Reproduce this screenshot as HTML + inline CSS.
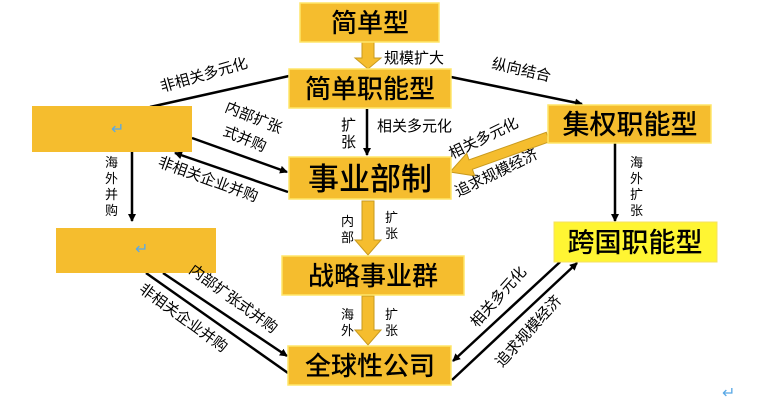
<!DOCTYPE html>
<html><head><meta charset="utf-8"><style>
html,body{margin:0;padding:0;background:#fff;width:764px;height:401px;overflow:hidden}
svg{display:block}
text{font-family:"Liberation Sans","Noto Sans CJK SC",sans-serif;fill:#000}
.b{font-size:26px;font-weight:500}
.l{font-size:15px}
</style></head><body>
<svg width="764" height="401" viewBox="0 0 764 401" xmlns="http://www.w3.org/2000/svg">
<defs>
<marker id="a" markerWidth="8" markerHeight="8" refX="7" refY="4" orient="auto" markerUnits="userSpaceOnUse" viewBox="0 0 8 8">
<path d="M0,0 L8,4 L0,8 z" fill="#000"/></marker>
</defs>
<g stroke="#000" stroke-width="2.5" fill="none">
<line x1="289" y1="76" x2="150" y2="107"/>
<line x1="451" y1="77" x2="582" y2="104" marker-end="url(#a)"/>
<line x1="367" y1="109" x2="367" y2="155" marker-end="url(#a)"/>
<line x1="192" y1="138" x2="287" y2="172" marker-end="url(#a)"/>
<line x1="288" y1="192" x2="175" y2="153" marker-end="url(#a)"/>
<line x1="132" y1="152" x2="132" y2="221" marker-end="url(#a)"/>
<line x1="163" y1="273" x2="287" y2="356" marker-end="url(#a)"/>
<line x1="288" y1="373" x2="146" y2="273"/>
<line x1="615" y1="143" x2="615" y2="221" marker-end="url(#a)"/>
<line x1="560" y1="262" x2="453" y2="361" marker-end="url(#a)"/>
<line x1="452" y1="380" x2="577" y2="263" marker-end="url(#a)"/>
</g>
<g fill="#f5bd2e" stroke="#c89a1e" stroke-width="1">
<path d="M362,42 H374 V58 H381 L368,69 L355,58 H362 Z"/>
<path d="M362,201 H374 V240 H381 L368,255 L355,240 H362 Z"/>
<path d="M362,296 H374 V330 H381 L368,345 L355,330 H362 Z"/>
<path d="M549.7,141.7 L472.4,169.3 L474.7,175.9 L450,172 L466.7,153.3 L469,159.9 L546.3,132.3 Z"/>
</g>
<g fill="#f5bd2e" stroke="#ffe66a" stroke-width="1.5">
<rect x="300" y="3" width="139" height="39"/>
<rect x="289" y="69" width="162" height="39"/>
<rect x="548" y="105" width="163" height="38"/>
<rect x="289" y="157" width="162" height="42"/>
<rect x="282" y="256" width="182" height="39"/>
<rect x="288" y="346" width="163" height="39"/>
</g>
<rect x="32" y="106" width="160" height="46" fill="#f5bd2e"/>
<rect x="56" y="228" width="160" height="45" fill="#f5bd2e"/>
<rect x="554" y="222" width="163" height="40" fill="#fff533" stroke="#f5e060"/>
<g class="b" text-anchor="middle">
<text x="370" y="32">简单型</text>
<text x="370" y="98">简单职能型</text>
<text x="630" y="134" font-size="27">集权职能型</text>
<text x="370" y="190" font-size="31">事业部制</text>
<text x="373" y="285">战略事业群</text>
<text x="370" y="375">全球性公司</text>
<text x="635" y="252" font-size="27">跨国职能型</text>
</g>
<g font-size="16">
<text x="111" y="134" style="fill:#5aa9e6">↵</text>
<text x="135" y="254" style="fill:#5aa9e6">↵</text>
<text x="722" y="398" style="fill:#5aa9e6">↵</text>
</g>
<g class="l">
<text x="384" y="63">规模扩大</text>
<text x="0" y="0" transform="translate(162,92) rotate(-16)">非相关多元化</text>
<text x="0" y="0" transform="translate(491,68) rotate(13)">纵向结合</text>
<text x="377" y="131">相关多元化</text>
<text x="341" y="130">扩</text>
<text x="341" y="147">张</text>
<text x="0" y="0" transform="translate(224,111) rotate(22)">内部扩张</text>
<text x="0" y="0" transform="translate(222,135) rotate(22)">式并购</text>
<text x="0" y="0" transform="translate(157,166) rotate(20)">非相关企业并购</text>
<text x="0" y="0" transform="translate(452,159) rotate(-26)">相关多元化</text>
<text x="0" y="0" transform="translate(458,197) rotate(-26)">追求规模经济</text>
<text x="105" y="167" font-size="13">海</text>
<text x="105" y="183" font-size="13">外</text>
<text x="105" y="199" font-size="13">并</text>
<text x="105" y="215" font-size="13">购</text>
<text x="630" y="167" font-size="13">海</text>
<text x="630" y="183" font-size="13">外</text>
<text x="630" y="199" font-size="13">扩</text>
<text x="630" y="215" font-size="13">张</text>
<text x="341" y="226" font-size="13">内</text>
<text x="341" y="242" font-size="13">部</text>
<text x="385" y="222" font-size="13">扩</text>
<text x="385" y="238" font-size="13">张</text>
<text x="341" y="319" font-size="13">海</text>
<text x="341" y="335" font-size="13">外</text>
<text x="385" y="319" font-size="13">扩</text>
<text x="385" y="335" font-size="13">张</text>
<text x="0" y="0" transform="translate(188,272) rotate(36)">内部扩张式并购</text>
<text x="0" y="0" transform="translate(138,291) rotate(36)">非相关企业并购</text>
<text x="0" y="0" transform="translate(477,328) rotate(-48)">相关多元化</text>
<text x="0" y="0" transform="translate(502,368) rotate(-48)">追求规模经济</text>
</g>
</svg>
</body></html>
